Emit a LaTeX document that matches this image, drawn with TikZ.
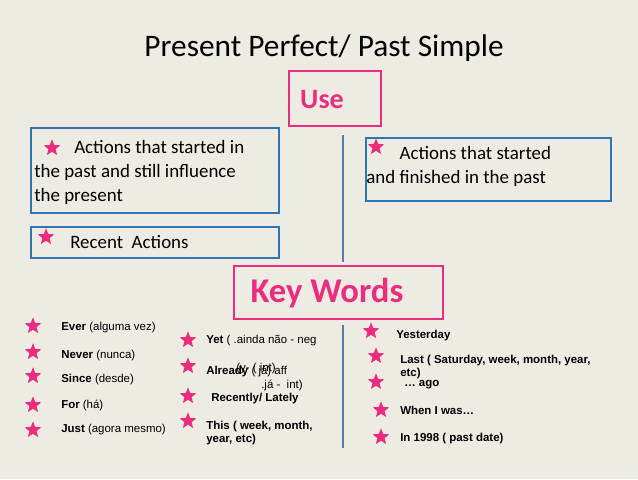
\documentclass[tikz,border=0pt]{standalone}
\usepackage{fontspec}
\setmainfont{Carlito}
\newfontfamily\arial{Liberation Sans}
\usetikzlibrary{shapes.geometric}
\definecolor{bg}{HTML}{EEEBE3}
\definecolor{pk}{HTML}{EC2D7F}
\definecolor{bl}{HTML}{2E75B6}
\definecolor{gl}{HTML}{5B7BA8}
\tikzset{
 st/.style={star,star points=5,star point ratio=2.3,fill=pk,draw=none,minimum size=13pt,inner sep=0pt},
 bbox/.style={draw=bl,line width=1.5pt,anchor=north west,inner sep=0pt},
 pbox/.style={draw=pk,line width=1.5pt,anchor=north west,inner sep=0pt},
 kw/.style={anchor=west,font=\arial\fontsize{8.6}{9.8}\selectfont,align=left,inner sep=0pt},
 tx/.style={anchor=west,font=\fontsize{14.2}{18}\selectfont,align=left,inner sep=0pt},
}
\begin{document}
\begin{tikzpicture}[x=0.75pt,y=-0.75pt]
\fill[bg] (0,0) rectangle (638,479);
\useasboundingbox (0,0) rectangle (638,479);
\node (title) at (324,48) {\fontsize{23.5}{26}\selectfont Present Perfect/ Past Simple};
\node[pbox,minimum width=69pt,minimum height=41pt] (use) at (288,70) {};
\node[text=pk,font=\bfseries\fontsize{21}{24}\selectfont] (uset) at (322,100) {Use};
\node[bbox,minimum width=186pt,minimum height=64pt] (b1) at (30,127) {};
\node[tx] (t1) at (34,172) {\hspace*{30pt}Actions that started in\\the past and still influence\\the present};
\node[st] (s1) at (52,148) {};
\node[bbox,minimum width=186pt,minimum height=23pt] (b2) at (30,226) {};
\node[tx] (t2) at (70,242) {Recent\ \ Actions};
\node[st] (s2) at (46,237) {};
\node[bbox,minimum width=184pt,minimum height=47pt] (b3) at (365,137) {};
\node[tx] (t3) at (366,166) {\hspace*{25pt}Actions that started\\and finished in the past};
\node[st] (s3) at (376,147) {};
\coordinate (l1a) at (343,135); \coordinate (l1b) at (343,262);
\coordinate (l2a) at (343,325); \coordinate (l2b) at (343,448);
\draw[gl,line width=2pt] (l1a) -- (l1b);
\draw[gl,line width=2pt] (l2a) -- (l2b);
\node[pbox,minimum width=157pt,minimum height=40pt] (kwb) at (233,265) {};
\node[text=pk,font=\bfseries\fontsize{26}{30}\selectfont] (kwt) at (327,293) {Key Words};
% left column
\foreach \n/\y/\t in {a/328/{\textbf{Ever} (alguma vez)},b/356/{\textbf{Never} (nunca)},c/380/{\textbf{Since} (desde)},d/405/{\textbf{For} (há)},e/430/{\textbf{Just} (agora mesmo)}}{
 \node[kw] (k\n) at (61,\y) {\t};
}
\foreach \n/\y in {a/326,b/352,c/376,d/405,e/430}{\node[st] (sl\n) at (33,\y) {};}
% middle
\node[kw] (m1) at (206,341) {\textbf{Yet} ( .ainda não - neg};
\node[kw] (m2) at (206,371) {\textbf{Already} ( já) aff};
\node[kw] (m2b) at (236,369) {(y- ( int)};
\node[kw] (m2c) at (261,385) {.já -\ \ int)};
\node[kw] (m3) at (211,399) {\textbf{Recently/ Lately}};
\node[kw] (m4) at (206,433) {\textbf{This ( week, month,}\\\textbf{year, etc)}};
\foreach \n/\y in {a/340,b/366,c/396,d/421}{\node[st] (sm\n) at (188,\y) {};}
% right
\node[kw] (r1) at (396,336) {\textbf{Yesterday}};
\node[kw] (r2) at (400,367) {\textbf{Last ( Saturday, week, month, year,}\\\textbf{etc)}};
\node[kw] (r3) at (404,385) {\textbf{… ago}};
\node[kw] (r4) at (400,410) {\textbf{When I was…}};
\node[kw] (r5) at (400,439) {\textbf{In 1998 ( past date)}};
\foreach \n/\x/\y in {a/371/331,b/376/356,c/376/382,d/381/410,e/381/437}{\node[st] (sr\n) at (\x,\y) {};}
\end{tikzpicture}
\end{document}
